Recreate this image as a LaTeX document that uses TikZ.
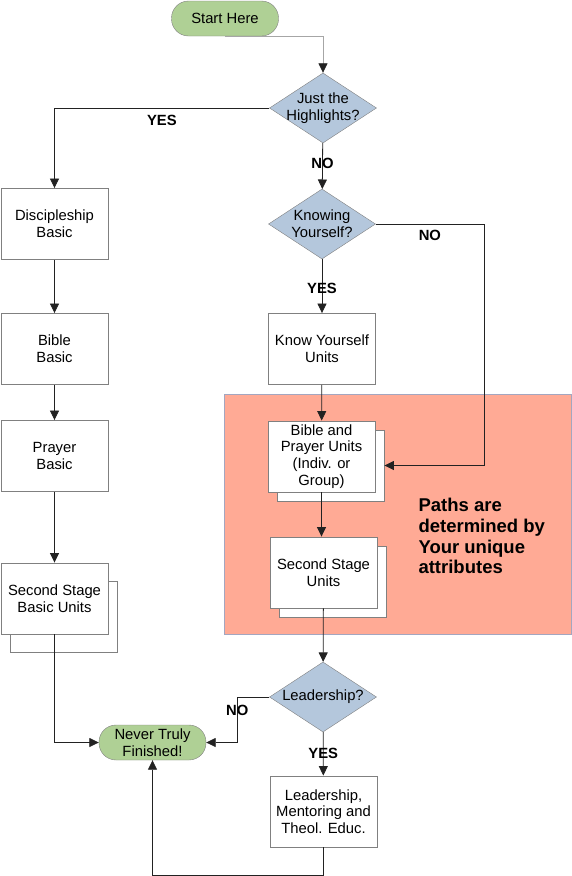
\documentclass[tikz,border=0pt]{standalone}
\usepackage{fontspec}
\setmainfont{Liberation Sans}
\usepackage{tikz}
\usetikzlibrary{arrows.meta, calc, positioning, shapes.geometric, shadows}
\definecolor{fGreen}{HTML}{AFD095}
\definecolor{fBlue}{HTML}{B4C7DC}
\definecolor{fBrick}{HTML}{FFAA95}
\definecolor{fGrey}{HTML}{808080}
\definecolor{fInk}{HTML}{222222}
\definecolor{fFrame}{HTML}{A3A6C0}

\begin{document}
\begin{tikzpicture}[x=1pt, y=-1pt, >={Triangle[length=9.5pt, width=9pt]},
  font=\fontsize{14.8}{16.7}\selectfont,
  term/.style={draw=fGrey, fill=fGreen, rounded corners=17pt, minimum width=107pt,
               minimum height=35pt, align=center, inner sep=1pt},
  box/.style={draw=fGrey, fill=white, line width=0.9pt, minimum width=107pt,
              minimum height=71pt, align=center, inner sep=1pt},
  stack/.style={box, copy shadow={shadow xshift=9pt, shadow yshift=-9pt}},
  decision/.style={diamond, draw=fGrey, fill=fBlue, minimum width=107pt,
                   minimum height=70pt, inner sep=0pt},
  ask/.style={align=center, inner sep=0pt},
  flow/.style={->, draw=fInk, line width=0.8pt},
  answer/.style={font=\fontsize{14.8}{17}\selectfont\bfseries, text=black}]
  \useasboundingbox (0,0) rectangle (571,876);
  % region of personal paths
  \fill[fBrick, draw=fFrame, line width=0.8pt] (224,394) rectangle (571,634);
  \node[font=\fontsize{18.5}{20.8}\selectfont\bfseries, align=left, anchor=west] (note)
    at (415,536) {Paths are\\determined by\\Your unique\\attributes};
  % main column
  \node[term] (start) at (225,18.5) {Start Here};
  \node[decision, label={[ask]center:{Just the\\Highlights?}}] (hl) at (323,108) {};
  \node[decision, label={[ask]center:{Knowing\\Yourself?}}] (kn) at (322,224) {};
  \node[box] (ky) at (322,349) {Know Yourself\\Units};
  \node[stack] (bp) at (321.5,456.5) {Bible and\\Prayer Units\\(Indiv. or\\Group)};
  \node[stack] (ss) at (323.5,572.5) {Second Stage\\Units};
  \node[decision, label={[ask]center:Leadership?}] (ld) at (323,697) {};
  \node[box] (lm) at (323.5,811.5) {Leadership,\\Mentoring and\\Theol. Educ.};
  % basic column
  \node[box] (disc) at (54.5,224) {Discipleship\\Basic};
  \node[box] (bib) at (54.5,349) {Bible\\Basic};
  \node[box] (pray) at (54.5,456) {Prayer\\Basic};
  \node[box, copy shadow={shadow xshift=9pt, shadow yshift=-18pt}] (ssb)
    at (54.5,598.5) {Second Stage\\Basic Units};
  \node[term] (fin) at (152.5,742.5) {Never Truly\\Finished!};
  \coordinate (noturn) at (484,465.5);
  % connectors
  \draw[flow, draw=fGrey!70, -{Triangle[length=9.5pt, width=9pt, color=fInk]}]
    (start) -- ++(0,18) -| (hl);
  \draw[flow] (hl.west) -| node[answer, pos=0.25, below=3pt] {YES} (disc);
  \draw[flow] (hl) -- node[answer, pos=0.45] {NO} (kn);
  \draw[flow] (kn.east) -| node[answer, pos=0.25, below=2pt] {NO} (noturn)
    -- ([xshift=9pt, yshift=-9pt]bp.east);
  \draw[flow] (kn) -- node[answer, pos=0.55] {YES} (ky);
  \draw[flow] (ky) -- (bp);
  \draw[flow] (bp.south) -- (bp.south |- ss.north);
  \draw[flow] (ss) -- (ld);
  \draw[flow] (ld.west) -- ++(-32,0) node[answer, below=4pt] {NO} |- (fin);
  \draw[flow] (ld) -- node[answer, pos=0.48] {YES} (lm);
  \draw[flow] (lm.south) -- ++(0,28) -| (fin.south);
  \draw[flow] (disc) -- (bib);
  \draw[flow] (bib) -- (pray);
  \draw[flow] (pray) -- (ssb);
  \draw[flow] (ssb.south) |- (fin.west);
\end{tikzpicture}
\end{document}
